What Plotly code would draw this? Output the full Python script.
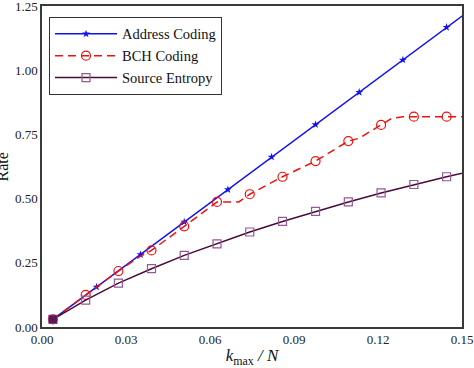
import plotly.graph_objects as go

# ---- data (x = k_max / N) ----
address_x = [0.0039, 0.0195, 0.0352, 0.0508, 0.0664, 0.0820, 0.0977, 0.1133, 0.1289, 0.1445, 0.1602]
address_y = [0.030, 0.156, 0.282, 0.409, 0.535, 0.662, 0.788, 0.914, 1.040, 1.167, 1.293]

bch_x = [0.0039, 0.0156, 0.0273, 0.0352, 0.0391, 0.0508, 0.0625, 0.0703, 0.0742, 0.0859,
         0.0977, 0.1094, 0.1133, 0.1211, 0.1250, 0.1289, 0.1328, 0.1445, 0.1523]
bch_y = [0.030, 0.125, 0.218, 0.276, 0.298, 0.392, 0.487, 0.487, 0.517, 0.585,
         0.646, 0.724, 0.735, 0.787, 0.813, 0.819, 0.819, 0.819, 0.819]
bch_marked = [1, 1, 1, 0, 1, 1, 1, 0, 1, 1, 1, 1, 0, 1, 0, 0, 1, 1, 0]

entropy_x = [0.0039, 0.0156, 0.0273, 0.0391, 0.0508, 0.0625, 0.0742, 0.0859, 0.0977, 0.1094,
             0.1211, 0.1328, 0.1445, 0.1563]
entropy_y = [0.030, 0.105, 0.171, 0.227, 0.279, 0.324, 0.370, 0.411, 0.450, 0.487,
             0.522, 0.555, 0.585, 0.614]

series_names = ["Address Coding", "BCH Coding", "Source Entropy"]
x_ticks = [0.00, 0.03, 0.06, 0.09, 0.12, 0.15]
y_ticks = [0.00, 0.25, 0.50, 0.75, 1.00, 1.25]

FONT = "Liberation Serif, Times New Roman, DejaVu Serif, serif"
BLUE = "#1010f0"
RED = "#ee1111"
PURPLE_LINE = "#4a0a38"
PURPLE_MARK = "#935a93"

fig = go.Figure()

addr_marker = dict(symbol="star", size=6, color=BLUE)
bch_marker = dict(symbol="circle-open", size=9, color=RED, line=dict(width=1.2, color=RED))
ent_marker = dict(symbol="square-open", size=8, color=PURPLE_MARK, line=dict(width=1.2, color=PURPLE_MARK))
addr_line = dict(color=BLUE, width=1.5)
bch_line = dict(color=RED, width=1.5, dash="8px,5px")
ent_line = dict(color=PURPLE_LINE, width=1.5)

# Address coding
fig.add_trace(go.Scatter(x=address_x, y=address_y, mode="lines+markers",
                         line=addr_line, marker=addr_marker, showlegend=False))
# BCH coding: full line + markers on subset
fig.add_trace(go.Scatter(x=bch_x, y=bch_y, mode="lines", line=bch_line, showlegend=False))
fig.add_trace(go.Scatter(x=[x for x, m in zip(bch_x, bch_marked) if m],
                         y=[y for y, m in zip(bch_y, bch_marked) if m],
                         mode="markers", marker=bch_marker, showlegend=False))
# Source entropy
fig.add_trace(go.Scatter(x=entropy_x, y=entropy_y, mode="lines+markers",
                         line=ent_line, marker=ent_marker, showlegend=False))
fig.add_trace(go.Scatter(x=entropy_x[:1], y=entropy_y[:1], mode="markers",
                         marker=dict(symbol="square", size=8, color="#5a1a58"), showlegend=False))

# legend entries
for name, ln, mk in zip(series_names, [addr_line, bch_line, ent_line], [addr_marker, bch_marker, ent_marker]):
    fig.add_trace(go.Scatter(x=[None], y=[None], mode="lines+markers", name=name,
                             line=ln, marker=mk, showlegend=True))

axis_common = dict(showgrid=False, zeroline=False, showline=True, linecolor="#3a3a3a",
                   linewidth=1.5, mirror=True, ticks="", automargin=False,
                   ticklabeloverflow="allow",
                   tickfont=dict(family=FONT, size=13, color="#222"))

fig.update_layout(
    width=474, height=368,
    margin=dict(l=42, r=12, t=6, b=41),
    paper_bgcolor="white", plot_bgcolor="white",
    font=dict(family=FONT, color="#111"),
    xaxis=dict(range=[0, 0.15], tickvals=x_ticks, ticktext=[f"{v:.2f}" for v in x_ticks],
               title=dict(text="<i>k</i><sub>max</sub> <i>/ N</i>", font=dict(family=FONT, size=17),
                          standoff=5),
               **axis_common),
    yaxis=dict(range=[0, 1.25], tickvals=y_ticks, ticktext=[f"{v:.2f}" for v in y_ticks],
               **axis_common),
    legend=dict(x=0.0167, y=0.966, xanchor="left", yanchor="top", itemwidth=62,
                bordercolor="#333", borderwidth=1, bgcolor="white",
                font=dict(family=FONT, size=14.5, color="#111"), tracegroupgap=0),
    annotations=[dict(text="Rate", xref="paper", yref="paper", x=-0.093, y=0.5,
                      xanchor="center", yanchor="middle", textangle=-90, showarrow=False,
                      font=dict(family=FONT, size=16, color="#111"))],
)

fig.write_html("out.html", config={"displayModeBar": False},
               post_script="document.body.style.margin='0';document.body.style.padding='0';")
